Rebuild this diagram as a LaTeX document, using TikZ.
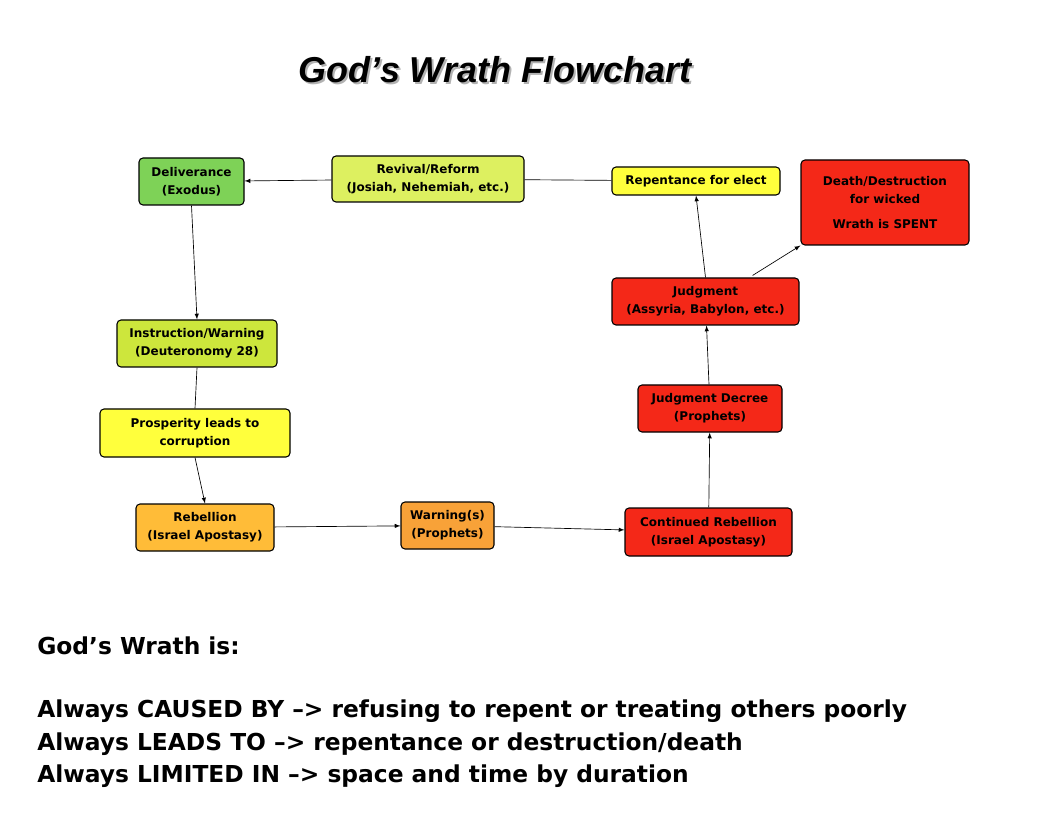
\documentclass[tikz,border=0pt]{standalone}
\usepackage{fontspec}
\setmainfont{DejaVu Sans}
\newfontfamily\titlefont{Liberation Sans}
\begin{document}
\begin{tikzpicture}[x=0.75pt,y=-0.75pt,
 box/.style={draw=black,line width=0.8pt,rounded corners=3pt,align=center,inner sep=0pt,font=\fontsize{9}{13.5}\selectfont\bfseries},
 arr/.style={-latex,line width=0.5pt},
 ln/.style={line width=0.5pt}]
\useasboundingbox (0,0) rectangle (1059,837);
\definecolor{cGreen}{HTML}{7ED257}
\definecolor{cLime}{HTML}{DDF060}
\definecolor{cYG}{HTML}{CDE63C}
\definecolor{cYel}{HTML}{FFFF3C}
\definecolor{cRed}{HTML}{F42818}
\definecolor{cOr}{HTML}{FFBC38}
\definecolor{cOr2}{HTML}{F8A238}
\node[font=\titlefont\fontsize{27}{30}\selectfont\bfseries\itshape,text=gray!60] at (497,72) {God’s Wrath Flowchart};
\node[font=\titlefont\fontsize{27}{30}\selectfont\bfseries\itshape] (title) at (495,70) {God’s Wrath Flowchart};
\node[box,fill=cGreen,minimum width=105*0.75pt,minimum height=47*0.75pt] (del) at (191.5,181.5) {Deliverance\\(Exodus)};
\node[box,fill=cLime,minimum width=192*0.75pt,minimum height=46*0.75pt] (rev) at (428,179) {Revival/Reform\\(Josiah, Nehemiah, etc.)};
\node[box,fill=cYel,minimum width=168*0.75pt,minimum height=28*0.75pt] (rep) at (696,181) {Repentance for elect};
\node[box,fill=cRed,minimum width=168*0.75pt,minimum height=85*0.75pt] (death) at (885,202.5) {Death/Destruction\\for wicked\\[5pt]Wrath is SPENT};
\node[box,fill=cYG,minimum width=160*0.75pt,minimum height=47*0.75pt] (ins) at (197,343.5) {Instruction/Warning\\(Deuteronomy 28)};
\node[box,fill=cYel,minimum width=190*0.75pt,minimum height=48*0.75pt] (pro) at (195,433) {Prosperity leads to\\corruption};
\node[box,fill=cOr,minimum width=138*0.75pt,minimum height=47*0.75pt] (reb) at (205,527.5) {Rebellion\\(Israel Apostasy)};
\node[box,fill=cOr2,minimum width=93*0.75pt,minimum height=47*0.75pt] (war) at (447.5,525.5) {Warning(s)\\(Prophets)};
\node[box,fill=cRed,minimum width=167*0.75pt,minimum height=48*0.75pt] (con) at (708.5,532) {Continued Rebellion\\(Israel Apostasy)};
\node[box,fill=cRed,minimum width=144*0.75pt,minimum height=47*0.75pt] (jd) at (710,408.5) {Judgment Decree\\(Prophets)};
\node[box,fill=cRed,minimum width=187*0.75pt,minimum height=47*0.75pt] (jud) at (705.5,301.5) {Judgment\\(Assyria, Babylon, etc.)};
\draw[arr] (rev) -- (del);
\draw[ln] (rep) -- (rev);
\draw[arr] (del.south) -- (ins.north);
\draw[ln] (ins.south) -- (pro.north);
\draw[arr] (pro.south) -- (reb.north);
\draw[arr] (reb) -- (war);
\draw[arr] (war) -- (con);
\draw[arr] (con) -- (jd);
\draw[arr] (jd) -- (jud);
\draw[arr] (jud.north) -- (rep.south);
\draw[arr] (jud.north east) ++(-47,-2) coordinate (jo) (jo) -- (death.south west);
\node[anchor=north west,align=left,inner sep=0pt,font=\fontsize{17.5}{24}\selectfont\bfseries] (txt) at (37,636) {God's Wrath is:\\[24pt]Always CAUSED BY --> refusing to repent or treating others poorly\\Always LEADS TO --> repentance or destruction/death\\Always LIMITED IN --> space and time by duration};
\end{tikzpicture}
\end{document}
